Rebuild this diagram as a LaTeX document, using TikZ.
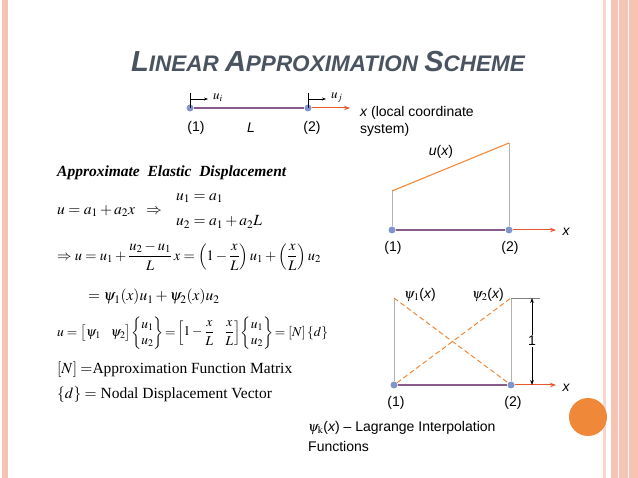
\documentclass[tikz,border=0pt]{standalone}
\usepackage{mathptmx}
\usepackage{amsmath}
\usepackage[no-math]{fontspec}
\setmainfont{Liberation Serif}
\newfontfamily\arial{Liberation Sans}
\usetikzlibrary{arrows.meta}
\definecolor{bar}{HTML}{8A5C8E}
\definecolor{nodeb}{HTML}{7F95CC}
\definecolor{axis}{HTML}{E8582C}
\definecolor{orng}{HTML}{F0883A}
\definecolor{titl}{HTML}{4A5360}
\definecolor{pinkb}{HTML}{F7C3B3}
\tikzset{
  pt/.style={circle,fill=nodeb,inner sep=0pt,minimum size=7pt},
  barline/.style={draw=bar,line width=2.2pt},
  axisline/.style={draw=axis,line width=1pt,-{Stealth[length=6pt]}},
  guide/.style={draw=gray!60,line width=0.7pt},
  lab/.style={font=\arial\fontsize{14}{16}\selectfont,inner sep=1pt},
  eq/.style={anchor=west,inner sep=0pt,font=\fontsize{15.5}{18}\selectfont},
}
\begin{document}
\begin{tikzpicture}[x=1pt,y=-1pt]
\useasboundingbox (0,0) rectangle (638,478);
\fill[white] (0,0) rectangle (638,478);
% borders
\fill[pinkb] (2,0) rectangle (8,478);
\fill[pinkb!70] (603,0) rectangle (606,478);
\fill[pinkb] (611,0) rectangle (638,478);
\draw[white,line width=0.8pt] (618,0) -- (618,478);
\draw[white,line width=0.8pt] (628,0) -- (628,478);
\fill[orng] (588,417) circle (19);
% title
\node[text=titl,font=\arial\bfseries\itshape] (title) at (328,62)
 {\fontsize{29}{32}\selectfont L\fontsize{22.5}{32}\selectfont INEAR \fontsize{29}{32}\selectfont A\fontsize{22.5}{32}\selectfont PPROXIMATION \fontsize{29}{32}\selectfont S\fontsize{22.5}{32}\selectfont CHEME};
% top element
\node[pt] (a1) at (190,108) {};
\node[pt] (a2) at (308,108) {};
\coordinate (ae) at (350,108);
\draw[barline] (a1) -- (a2);
\draw[axisline] (a2) -- (ae);
\draw[line width=0.6pt] (190,93) -- (190,108);
\draw[line width=0.6pt,-{Stealth[length=4pt]}] (190,99) -- (208,99);
\node[font=\fontsize{13}{14}\selectfont,anchor=west,inner sep=0pt] (ui) at (213,98) {$u_i$};
\draw[line width=0.6pt] (308,93) -- (308,108);
\draw[line width=0.6pt,-{Stealth[length=4pt]}] (308,99) -- (326,99);
\node[font=\fontsize{13}{14}\selectfont,anchor=west,inner sep=0pt] (uj) at (331,98) {$u_j$};
\node[lab] (l1) at (196,128) {(1)};
\node[lab] (lL) at (251,128) {\itshape L};
\node[lab] (l2) at (312,128) {(2)};
\node[lab,anchor=west] (lx) at (359,113) {\itshape x\upshape{} (local coordinate};
\node[lab,anchor=west] (lx2) at (359,130) {system)};
% graph 1
\node[pt] (b1) at (392,230) {};
\node[pt] (b2) at (509,230) {};
\coordinate (be) at (556,230);
\coordinate (bt1) at (392,191);
\coordinate (bt2) at (509,143);
\draw[guide] (b1) -- (bt1);
\draw[guide] (b2) -- (bt2);
\draw[orng,line width=1.1pt] (bt1) -- (bt2);
\draw[barline] (b1) -- (b2);
\draw[axisline] (b2) -- (be);
\node[lab] (ux) at (441,152) {\itshape u\upshape(\itshape x\upshape)};
\node[lab] (bx) at (566,232) {\itshape x};
\node[lab] (b1l) at (393,248) {(1)};
\node[lab] (b2l) at (510,248) {(2)};
% graph 2
\node[pt] (c1) at (394,385) {};
\node[pt] (c2) at (511,385) {};
\coordinate (ce) at (556,385);
\coordinate (ct1) at (394,298);
\coordinate (ct2) at (511,298);
\coordinate (cd) at (540,298);
\draw[guide] (c1) -- (ct1);
\draw[guide] (c2) -- (ct2);
\draw[orng,line width=1pt,dash pattern=on 5pt off 3pt] (ct1) -- (c2);
\draw[orng,line width=1pt,dash pattern=on 5pt off 3pt] (c1) -- (ct2);
\draw[barline] (c1) -- (c2);
\draw[axisline] (c2) -- (ce);
\draw[gray,line width=0.8pt] (ct2) -- (cd);
\node[lab] (one) at (532,341) {1};
\draw[line width=0.8pt,-{Stealth[length=5pt]}] (one) -- (532,298);
\draw[line width=0.8pt,-{Stealth[length=5pt]}] (one) -- (532,385);
\node[lab] (p1) at (420,295) {$\psi_1$(\itshape x\upshape)};
\node[lab] (p2) at (488,295) {$\psi_2$(\itshape x\upshape)};
\node[lab] (cx) at (566,388) {\itshape x};
\node[lab] (c1l) at (396,403) {(1)};
\node[lab] (c2l) at (513,403) {(2)};
\node[lab,anchor=west] (lg1) at (307,428) {$\psi_{\mathrm k}$(\itshape x\upshape) – Lagrange Interpolation};
\node[lab,anchor=west] (lg2) at (307,446) {Functions};
% equations
\node[eq] (e0) at (57,173) {\bfseries\itshape Approximate\ \ Elastic\ \ Displacement};
\node[eq] (e1) at (57,211) {$u=a_1+a_2x\ \ \Rightarrow$};
\node[eq] (e1a) at (176,198) {$u_1=a_1$};
\node[eq] (e1b) at (176,222) {$u_2=a_1+a_2L$};
\node[eq,font=\fontsize{14.5}{17}\selectfont] (e2) at (57,256) {$\Rightarrow u=u_1+\dfrac{u_2-u_1}{L}\,x=\left(1-\dfrac{x}{L}\right)u_1+\left(\dfrac{x}{L}\right)u_2$};
\node[eq] (e3) at (88,297) {$=\psi_1(x)u_1+\psi_2(x)u_2$};
\node[eq,font=\fontsize{13.5}{16}\selectfont] (e4) at (57,333) {$u=\begin{bmatrix}\psi_1 & \psi_2\end{bmatrix}\!\begin{Bmatrix}u_1\\u_2\end{Bmatrix}\!=\!\begin{bmatrix}1-\dfrac{x}{L} & \dfrac{x}{L}\end{bmatrix}\!\begin{Bmatrix}u_1\\u_2\end{Bmatrix}\!=[\boldsymbol N]\,\{\boldsymbol d\}$};
\node[eq] (e5) at (57,370) {$[N]=$Approximation Function Matrix};
\node[eq] (e6) at (57,395) {$\{\boldsymbol d\}=$ Nodal Displacement Vector};
\end{tikzpicture}
\end{document}
